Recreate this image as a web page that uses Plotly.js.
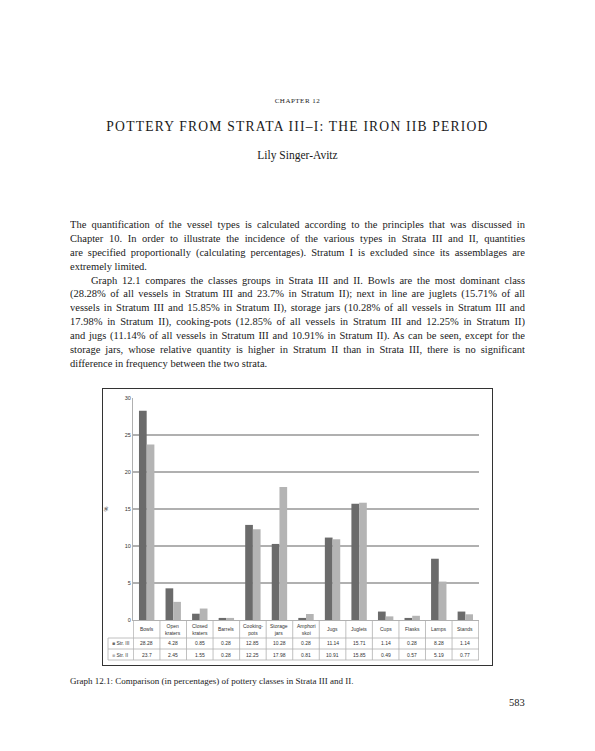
<!DOCTYPE html>
<html>
<head>
<meta charset="utf-8">
<script src="https://cdn.plot.ly/plotly-3.0.1.min.js"></script>
<style>
  body { margin: 0; background: #fff; }
  #page { position: relative; width: 595px; height: 751px; background: #fff; font-family: "Liberation Serif", "Times New Roman", serif; color: #1a1a1a; }
  .abs { position: absolute; }
  .center { left: 0; width: 595px; text-align: center; }
  #body { left: 70px; top: 218px; width: 455px; font-size: 10.5px; line-height: 13.9px; }
  #body div { height: 13.9px; white-space: nowrap; }
  #body .j { text-align: justify; text-align-last: justify; white-space: normal; overflow: hidden; }
  #body .ind { text-indent: 21px; }
  #frame { left: 102px; top: 388px; width: 389px; height: 276px; border: 1px solid #333; }
</style>
</head>
<body>
<div id="page">
  <div class="abs center" style="top:97px; font-size:7px; letter-spacing:0.5px;">CHAPTER 12</div>
  <div class="abs center" style="top:119px; font-size:13.6px; letter-spacing:1.2px;">POTTERY FROM STRATA III–I: THE IRON IIB PERIOD</div>
  <div class="abs center" style="top:149px; font-size:11.5px;">Lily Singer-Avitz</div>

  <div id="body" class="abs">
    <div class="j">The quantification of the vessel types is calculated according to the principles that was discussed in</div>
    <div class="j">Chapter 10. In order to illustrate the incidence of the various types in Strata III and II, quantities</div>
    <div class="j">are specified proportionally (calculating percentages). Stratum I is excluded since its assemblages are</div>
    <div>extremely limited.</div>
    <div class="j ind">Graph 12.1 compares the classes groups in Strata III and II. Bowls are the most dominant class</div>
    <div class="j">(28.28% of all vessels in Stratum III and 23.7% in Stratum II); next in line are juglets (15.71% of all</div>
    <div class="j">vessels in Stratum III and 15.85% in Stratum II), storage jars (10.28% of all vessels in Stratum III and</div>
    <div class="j">17.98% in Stratum II), cooking-pots (12.85% of all vessels in Stratum III and 12.25% in Stratum II)</div>
    <div class="j">and jugs (11.14% of all vessels in Stratum III and 10.91% in Stratum II). As can be seen, except for the</div>
    <div class="j">storage jars, whose relative quantity is higher in Stratum II than in Strata III, there is no significant</div>
    <div>difference in frequency between the two strata.</div>
  </div>

  <div id="frame" class="abs"><div id="plot" style="width:389px;height:276px;"></div></div>

  <div class="abs" style="left:70px; top:676px; font-size:9px;">Graph 12.1: Comparison (in percentages) of pottery classes in Strata III and II.</div>
  <div class="abs" style="left:509px; top:697px; font-size:10.5px;">583</div>
</div>

<script>
// pottery classes and percentages per stratum
var categories = ['Bowls', 'Open kraters', 'Closed kraters', 'Barrels', 'Cooking-pots', 'Storage jars', 'Amphoriskoi',
                  'Jugs', 'Juglets', 'Cups', 'Flasks', 'Lamps', 'Stands']
var tickLabels = ['Bowls', 'Open<br>kraters', 'Closed<br>kraters', 'Barrels', 'Cooking-<br>pots', 'Storage<br>jars', 'Amphori<br>skoi',
                  'Jugs', 'Juglets', 'Cups', 'Flasks', 'Lamps', 'Stands']
var stratumIII = [28.28, 4.28, 0.85, 0.28, 12.85, 10.28, 0.28, 11.14, 15.71, 1.14, 0.28, 8.28, 1.14]
var stratumII = [23.7, 2.45, 1.55, 0.28, 12.25, 17.98, 0.81, 10.91, 15.85, 0.49, 0.57, 5.19, 0.77]
var seriesNames = ['Str. III', 'Str. II']
var yTicks = [0, 5, 10, 15, 20, 25, 30]

var darkGrey = '#6b6b6b'
var lightGrey = '#b4b4b4'
var lineGrey = '#b0b0b0'

// plot area is 346 x 222 px, table rows hang below it
var plotH = 222, plotW = 346
function py(px) { return -px / plotH }   // pixels below the x axis -> paper y
var catRow = py(18), row1 = py(29), row2 = py(40)
var tableLeft = -25 / plotW

var trace1 = {
  x: categories, y: stratumIII, type: 'bar', name: seriesNames[0],
  marker: { color: darkGrey }
}
var trace2 = {
  x: categories, y: stratumII, type: 'bar', name: seriesNames[1],
  marker: { color: lightGrey }
}

var annotations = []
var shapes = []
var tfont = { family: 'Liberation Sans, Arial', size: 5, color: '#333' }

for (var i = 0; i < categories.length; i++) {
  annotations.push({ x: categories[i], y: catRow / 2, xref: 'x', yref: 'paper', text: tickLabels[i],
    showarrow: false, font: tfont, yanchor: 'middle' })
  annotations.push({ x: categories[i], y: (catRow + row1) / 2, xref: 'x', yref: 'paper', text: String(stratumIII[i]),
    showarrow: false, font: tfont, yanchor: 'middle' })
  annotations.push({ x: categories[i], y: (row1 + row2) / 2, xref: 'x', yref: 'paper', text: String(stratumII[i]),
    showarrow: false, font: tfont, yanchor: 'middle' })
}
// legend keys in the table
annotations.push({ x: tableLeft + 0.006, y: (catRow + row1) / 2, xref: 'paper', yref: 'paper', xanchor: 'left', yanchor: 'middle',
  text: '<span style="color:' + darkGrey + '">■</span> ' + seriesNames[0], showarrow: false, font: tfont })
annotations.push({ x: tableLeft + 0.006, y: (row1 + row2) / 2, xref: 'paper', yref: 'paper', xanchor: 'left', yanchor: 'middle',
  text: '<span style="color:' + lightGrey + '">■</span> ' + seriesNames[1], showarrow: false, font: tfont })

// table grid
var lineStyle = { color: lineGrey, width: 0.8 }
;[catRow, row1, row2].forEach(function (yy) {
  shapes.push({ type: 'line', xref: 'paper', yref: 'paper', x0: tableLeft, x1: 1, y0: yy, y1: yy, line: lineStyle })
})
for (var j = 0; j <= categories.length; j++) {
  shapes.push({ type: 'line', xref: 'x', yref: 'paper', x0: j - 0.5, x1: j - 0.5, y0: row2, y1: 0, line: lineStyle })
}
shapes.push({ type: 'line', xref: 'paper', yref: 'paper', x0: tableLeft, x1: tableLeft, y0: row2, y1: catRow, line: lineStyle })

var layout = {
  width: 389, height: 276,
  margin: { l: 30, r: 13, t: 9, b: 45 },
  paper_bgcolor: '#fff', plot_bgcolor: '#fff',
  barmode: 'group', bargap: 0.42, bargroupgap: 0,
  showlegend: false,
  font: tfont,
  xaxis: { type: 'category', showticklabels: false, ticks: '', showgrid: false, showline: true, linecolor: lineGrey, linewidth: 1, fixedrange: true },
  yaxis: {
    range: [0, 30], tickvals: yTicks, ticktext: yTicks.map(String), showgrid: true, gridcolor: lineGrey, gridwidth: 1.2,
    zeroline: false, showline: true, linecolor: lineGrey, linewidth: 1, ticks: '', ticklen: 0,
    tickfont: { family: 'Liberation Sans, Arial', size: 5.5, color: '#333' },
    title: { text: '%', font: { size: 5.5, color: '#333' }, standoff: 16 }
  },
  annotations: annotations,
  shapes: shapes
}

Plotly.newPlot('plot', [trace1, trace2], layout, { displayModeBar: false, staticPlot: true })
</script>
</body>
</html>
